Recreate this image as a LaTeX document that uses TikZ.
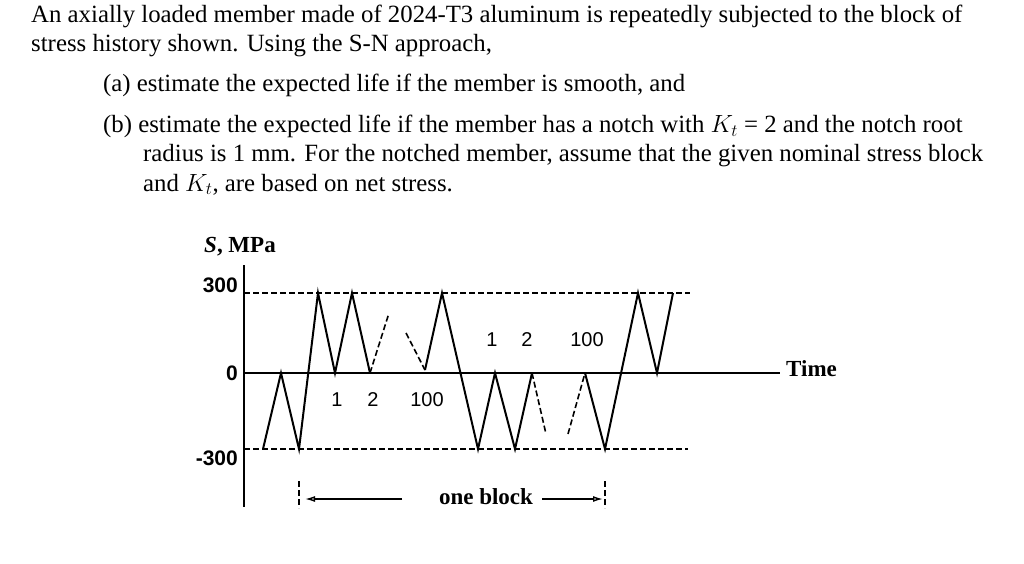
\documentclass[tikz,border=0pt]{standalone}
\usepackage{fontspec}
\usetikzlibrary{arrows.meta}
\setmainfont{Liberation Serif}
\newfontfamily\numf{Liberation Sans}
\begin{document}
\begin{tikzpicture}[x=1pt,y=-1pt,
  txt/.style={anchor=base west,inner sep=0pt,font=\fontsize{24.8}{28}\selectfont},
  num/.style={inner sep=0pt,font=\numf\fontsize{20}{22}\selectfont},
  tick/.style={inner sep=0pt,anchor=east,font=\numf\bfseries\fontsize{21}{22}\selectfont},
  lab/.style={inner sep=0pt,font=\fontsize{23}{26}\selectfont\bfseries},
  wave/.style={line width=2pt,line join=miter},
  dsh/.style={line width=1.6pt,dashed,dash pattern=on 6pt off 3pt},
  ax/.style={line width=2pt}]
\useasboundingbox (0,0) rectangle (1024,564);
\node[txt] (l1) at (31,23) {An axially loaded member made of 2024-T3 aluminum is repeatedly subjected to the block of};
\node[txt] (l2) at (31,52) {stress history shown. Using the S-N approach,};
\node[txt] (a1) at (103,92) {(a) estimate the expected life if the member is smooth, and};
\node[txt] (b1) at (103,133) {(b) estimate the expected life if the member has a notch with $K_t$ = 2 and the notch root};
\node[txt] (b2) at (143,162) {radius is 1 mm. For the notched member, assume that the given nominal stress block};
\node[txt] (b3) at (143,191) {and $K_t$, are based on net stress.};
% axes
\coordinate (yt) at (244,265); \coordinate (yb) at (244,507);
\draw[ax] (yt) -- (yb);
\coordinate (z0) at (244,373); \coordinate (z1) at (780,373);
\draw[ax] (z0) -- (z1);
\coordinate (t0) at (244,293); \coordinate (t1) at (690,293);
\coordinate (b0) at (244,449); \coordinate (b1) at (688,449);
\draw[dsh] (t0) -- (t1);
\draw[dsh] (b0) -- (b1);
% waveform
\draw[wave] (263,449) -- (281,373) -- (299,449) -- (318,293) -- (335,373) -- (352,293) -- (370,373);
\draw[dsh] (370,373) -- (389,313);
\draw[dsh] (406,333) -- (425,370);
\draw[wave] (425,370) -- (442,293) -- (478,449) -- (495,373) -- (515,449) -- (532,373);
\draw[dsh] (532,373) -- (546,434);
\draw[dsh] (568,434) -- (585,373);
\draw[wave] (585,373) -- (605,449) -- (638,293) -- (657,373) -- (673,293);
% labels
\node[num] (n1) at (337,400) {1};
\node[num] (n2) at (373,400) {2};
\node[num] (n3) at (427,400) {100};
\node[num] (m1) at (492,340) {1};
\node[num] (m2) at (527,340) {2};
\node[num] (m3) at (587,340) {100};
\node[tick] (v1) at (238,285) {300};
\node[tick] (v2) at (238,373) {0};
\node[tick] (v3) at (238,458) {-300};
\node[lab] (sm) at (240,247) {\textit{S}, MPa};
\node[lab,anchor=west] (tm) at (786,369) {Time};
% one block
\coordinate (k1) at (299,481); \coordinate (k2) at (299,508);
\coordinate (k3) at (605,481); \coordinate (k4) at (605,508);
\draw[dsh,line width=1.2pt] (k1) -- (k2);
\draw[dsh,line width=1.2pt] (k3) -- (k4);
\node[lab] (ob) at (486,497) {one block};
\coordinate (a1) at (305,499); \coordinate (a2) at (402,499);
\coordinate (a3) at (542,499); \coordinate (a4) at (603,499);
\draw[line width=1.4pt,-{Latex[open,length=10pt,width=6pt]}] (a2) -- (a1);
\draw[line width=1.4pt,-{Latex[open,length=10pt,width=6pt]}] (a3) -- (a4);
\end{tikzpicture}
\end{document}
